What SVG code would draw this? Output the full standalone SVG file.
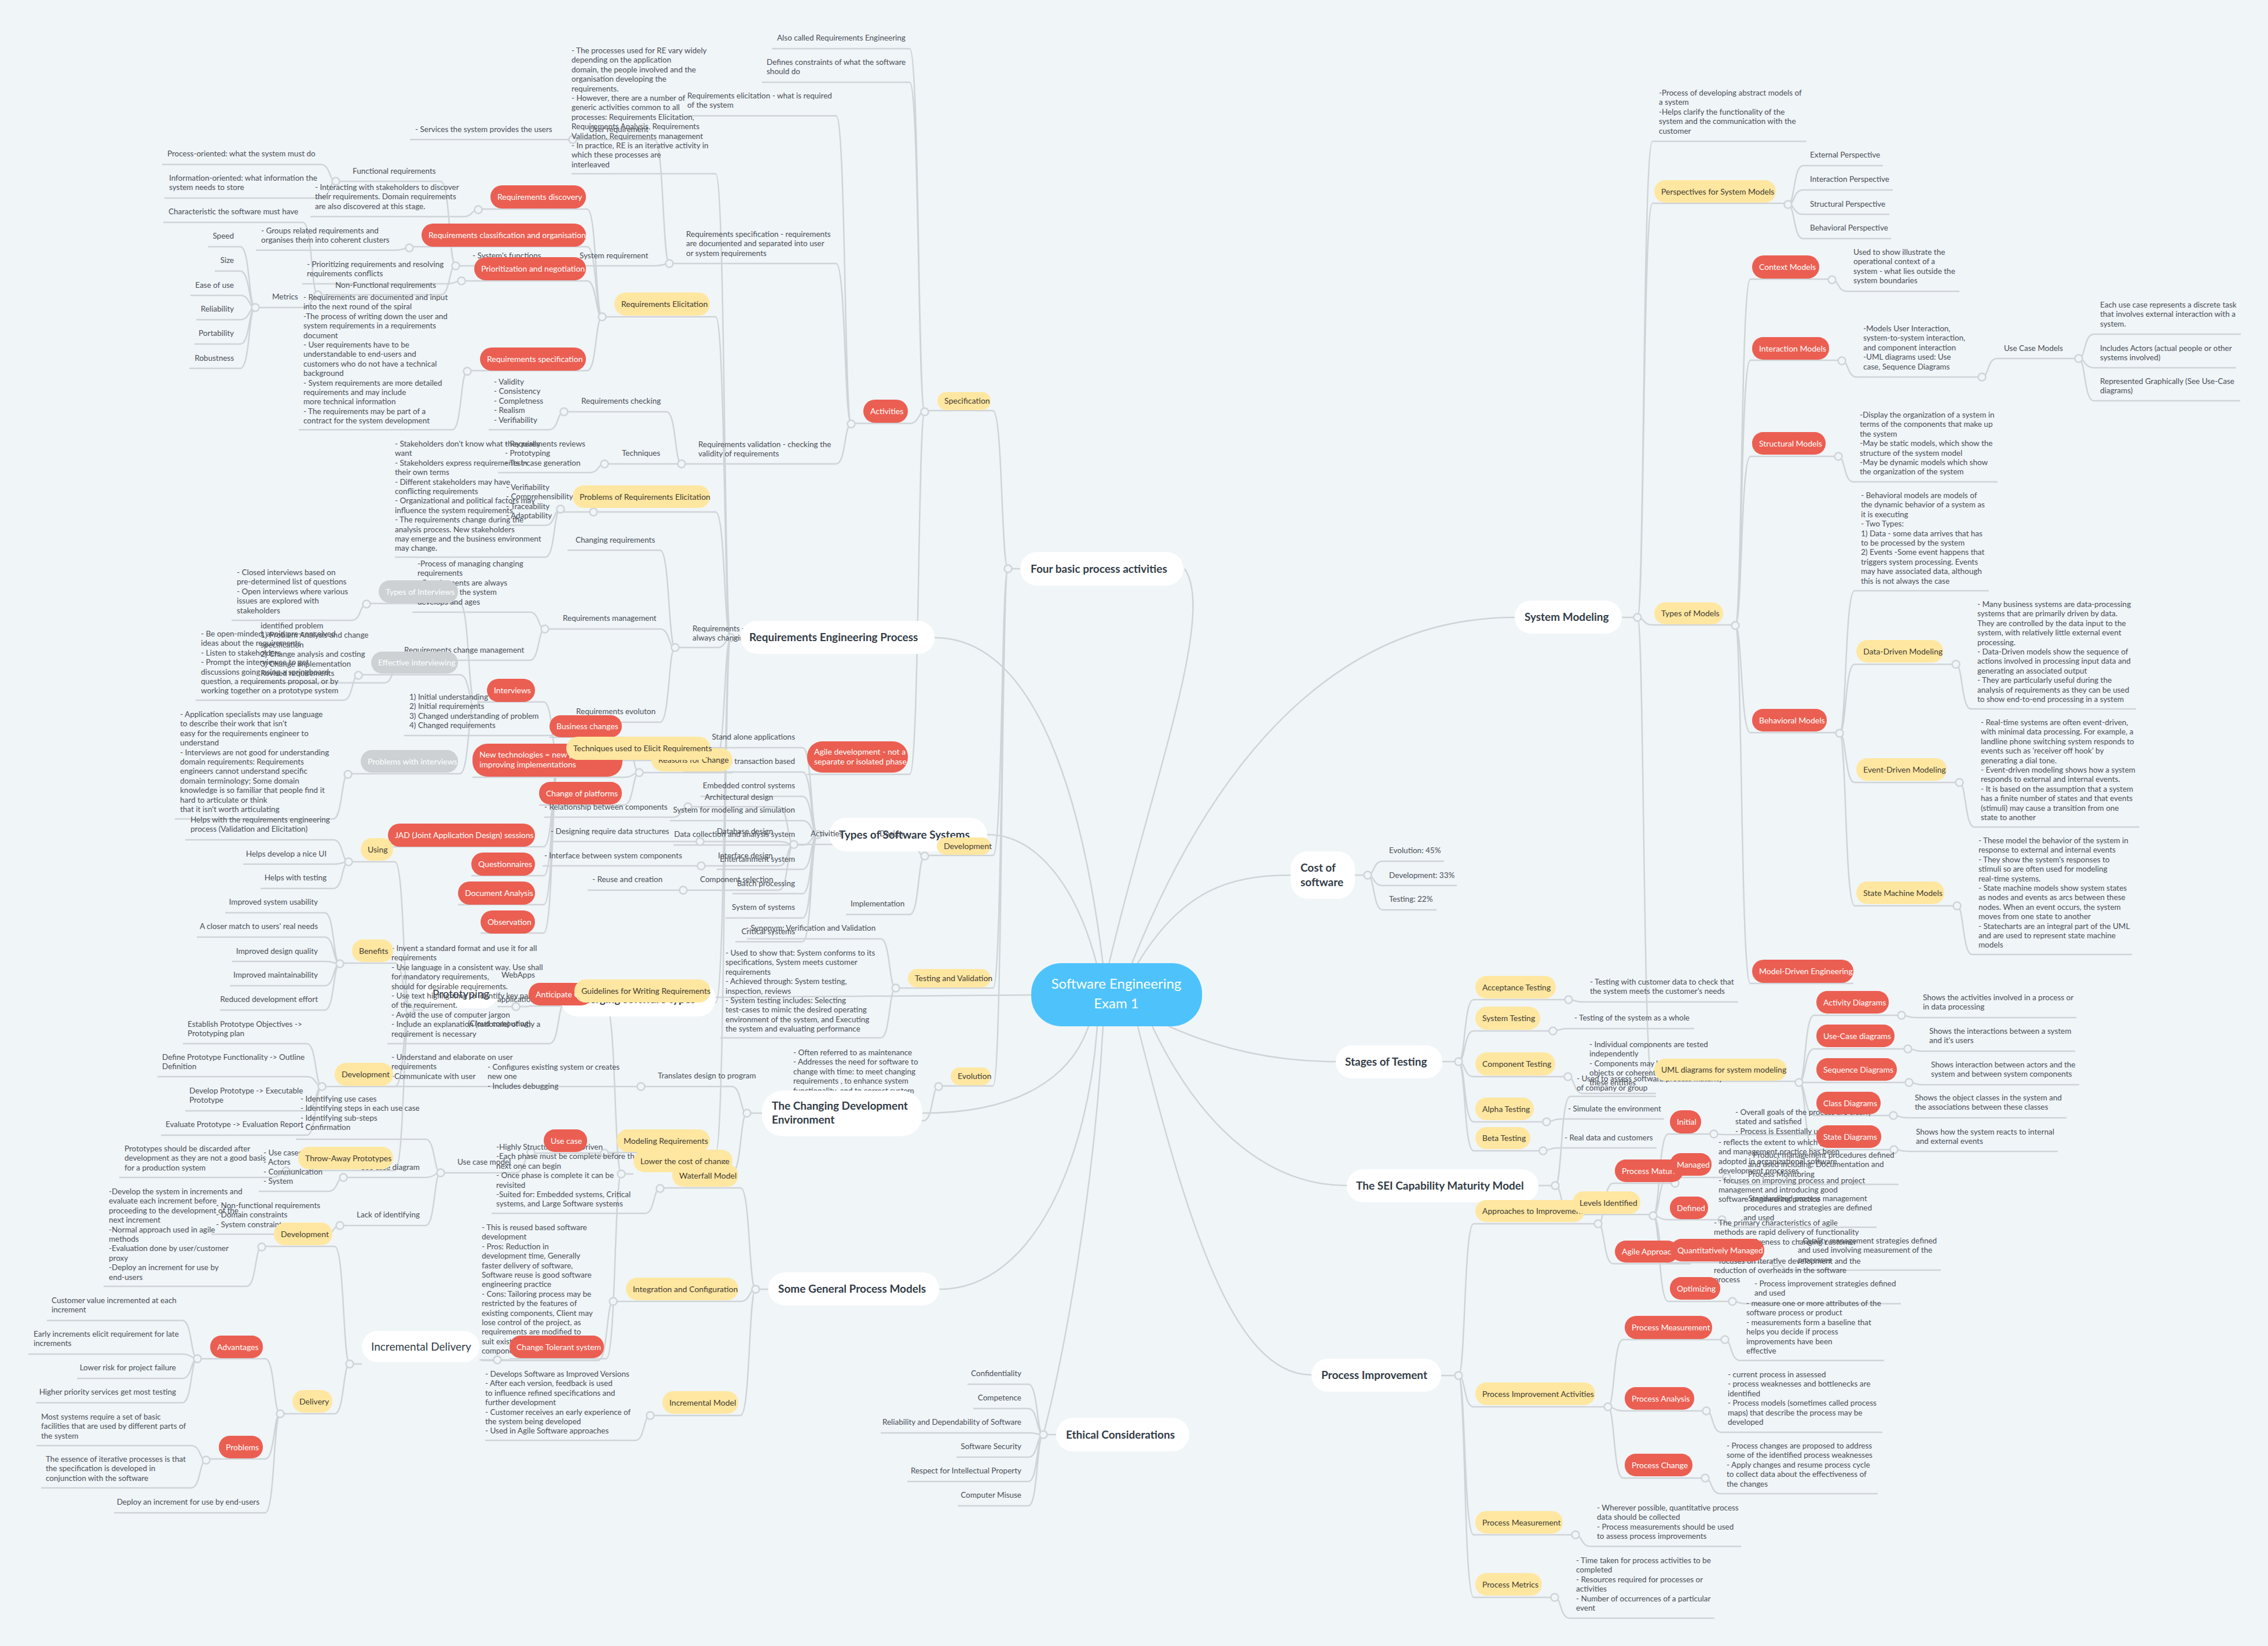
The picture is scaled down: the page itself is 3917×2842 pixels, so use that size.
<svg xmlns="http://www.w3.org/2000/svg" width="3917" height="2842" viewBox="0 0 3917 2842">
<style>
.c{fill:none;stroke:#cfd4d8;stroke-width:2.5}
.h{fill:#f0f5f8;stroke:#cfd4d8;stroke-width:2.5}
text{font-family:Lato,"Liberation Sans",sans-serif}
.t{font-size:13.5px;fill:#4a4f57}
.e{text-anchor:end}
.pr{fill:#eb5f52}.py{fill:#ffe7a1}.pg{fill:#cdd1d4}.pw{fill:#ffffff}
.wt{font-size:14px;fill:#ffffff}
.yt{font-size:14px;fill:#3f3c33}
.mt{font-size:19px;font-weight:bold;fill:#323c46}
.rt{font-size:19px;fill:#323c46}
</style>
<rect width="3917" height="2842" fill="#f0f5f8"/>
<g id="connectors">
<path class="c" d="M1915 1665C1990 1350 2100 1060 2046 982"/>
<path class="c" d="M1905 1665C1870 1380 1790 1101 1614 1101"/>
<path class="c" d="M1895 1668C1860 1530 1790 1441 1705 1441"/>
<path class="c" d="M1781 1718L1236 1722"/>
<path class="c" d="M1880 1772C1850 1860 1760 1922 1593 1922"/>
<path class="c" d="M1895 1772C1880 1990 1790 2226 1622 2226"/>
<path class="c" d="M1905 1772C1890 2050 1840 2330 1802 2477"/>
<path class="c" d="M1965 1663C2040 1540 2120 1511 2229 1511"/>
<path class="c" d="M1955 1663C2120 1250 2350 1066 2616 1066"/>
<path class="c" d="M2010 1768C2100 1810 2200 1833 2307 1833"/>
<path class="c" d="M1990 1772C2080 1960 2200 2047 2326 2047"/>
<path class="c" d="M1965 1772C2050 2110 2130 2374 2265 2374"/>
<path class="c" d="M1741 982C1729 982 1732 709 1715 709H1597M1741 982C1729 982 1732 1477 1715 1477H1597M1741 982C1729 982 1732 1706 1715 1706H1547M1741 982C1729 982 1732 1875 1715 1875H1621M1741 982H1762"/>
<path class="c" d="M1597 711C1585 711 1588 84 1571 84H1333M1597 711C1585 711 1588 142 1571 142H1316M1597 711C1585 711 1588 731 1571 731H1470M1597 711C1585 711 1588 1337 1571 1337H1394"/>
<path class="c" d="M1470 732C1458 732 1461 200 1444 200H1187M1470 732C1458 732 1461 455 1444 455H1156M1470 732C1458 732 1461 801 1444 801H1177"/>
<path class="c" d="M1156 455C1144 455 1147 241 1130 241H989M1156 455C1148 455 1146 459 1130 459H787M989 241H708"/>
<path class="c" d="M787 459C775 459 778 313 761 313H580M787 459C775 459 778 509 761 509H549"/>
<path class="c" d="M580 313C568 313 571 284 554 284H280M580 313C568 313 571 342 554 342H284M549 509C537 509 540 384 523 384H282M549 509C537 509 540 531 523 531H441"/>
<path class="c" d="M441 531C429 531 432 426 415 426H359M441 531C429 531 432 468 415 468H371M441 531C429 531 432 510 415 510H329M441 531C429 531 432 552 415 552H339M441 531C429 531 432 594 415 594H336M441 531C429 531 432 636 415 636H327"/>
<path class="c" d="M1177 801C1165 801 1168 711 1151 711H974M1177 801H1044M974 711C962 711 965 742 948 742H844M1044 801C1032 801 1035 816 1018 816H860"/>
<path class="c" d="M1262 1101C1250 1101 1253 300 1236 300H987M1262 1101C1250 1101 1253 547 1236 547H1040M1262 1101C1250 1101 1253 884 1236 884H1025M1262 1101C1254 1101 1252 1118 1240 1118H1166M1262 1101C1250 1101 1253 1313 1236 1313H965M1262 1101C1250 1101 1253 1731 1236 1731H975M1262 1101C1250 1101 1253 1990 1236 1990H1044M1262 1101H1279"/>
<path class="c" d="M1040 547C1028 547 1031 361 1014 361H826M1040 547C1028 547 1031 426 1014 426H707M1040 547C1028 547 1031 485 1014 485H797M1040 547C1028 547 1031 640 1014 640H807"/>
<path class="c" d="M826 362C814 362 817 374 800 374H536M707 428C695 428 698 432 681 432H442M797 485C785 485 788 490 771 490H522M807 641C795 641 798 742 781 742H516"/>
<path class="c" d="M1025 884H968M968 879C956 879 959 962 942 962H682M968 879C956 879 959 907 942 907H874"/>
<path class="c" d="M1166 1118C1154 1118 1157 950 1140 950H980M1166 1118C1154 1118 1157 1086 1140 1086H941M1166 1118C1154 1118 1157 1247 1140 1247H975"/>
<path class="c" d="M941 1086C929 1086 932 1057 915 1057H712M941 1086C929 1086 932 1140 915 1140H690M690 1140C678 1140 681 1179 664 1179H440M975 1247C963 1247 966 1270 949 1270H698"/>
<path class="c" d="M965 1314C953 1314 956 1212 939 1212H820M965 1314C953 1314 956 1462 939 1462H670M965 1314C953 1314 956 1512 939 1512H814M965 1314C953 1314 956 1562 939 1562H791M965 1314C953 1314 956 1611 939 1611H830"/>
<path class="c" d="M820 1212C808 1212 811 1042 794 1042H633M820 1212C808 1212 811 1165 794 1165H619M820 1212C808 1212 811 1336 794 1336H601"/>
<path class="c" d="M633 1043C621 1043 624 1071 607 1071H400M619 1166C607 1166 610 1209 593 1209H338M601 1337C589 1337 592 1414 575 1414H302"/>
<path class="c" d="M1104 1334H1265M1104 1334C1092 1334 1095 1273 1078 1273H949M1104 1334C1092 1334 1095 1342 1078 1342H816M1104 1334C1092 1334 1095 1390 1078 1390H931"/>
<path class="c" d="M1073 2027C1061 2027 1064 1737 1047 1737H913M1073 2027C1061 2027 1064 2346 1047 2346H880M1073 2027H1094M913 1738H859M731 1744H708"/>
<path class="c" d="M708 1744C696 1744 699 1488 682 1488H602M708 1744C696 1744 699 1663 682 1663H587M708 1744C696 1744 699 1876 682 1876H556M708 1744C696 1744 699 2021 682 2021H494"/>
<path class="c" d="M602 1488C590 1488 593 1450 576 1450H320M602 1488C590 1488 593 1492 576 1492H420M602 1488C590 1488 593 1534 576 1534H450"/>
<path class="c" d="M587 1664C575 1664 578 1576 561 1576H389M587 1664C575 1664 578 1618 561 1618H340M587 1664C575 1664 578 1660 561 1660H401M587 1664C575 1664 578 1702 561 1702H397M587 1664C575 1664 578 1744 561 1744H380"/>
<path class="c" d="M556 1876C544 1876 547 1802 530 1802H316M556 1876C544 1876 547 1859 530 1859H272M556 1876C544 1876 547 1918 530 1918H320M556 1876C544 1876 547 1960 530 1960H278M494 2022C482 2022 485 2033 468 2033H206"/>
<path class="c" d="M992 1733H975M975 1733C963 1733 966 1802 949 1802H669"/>
<path class="c" d="M880 2348H828M625 2355H604M604 2355C592 2355 595 2152 578 2152H452M604 2355C592 2355 595 2441 578 2441H484M452 2153C440 2153 443 2221 426 2221H179"/>
<path class="c" d="M484 2441C472 2441 475 2346 458 2346H341M484 2441C472 2441 475 2519 458 2519H356M484 2441C472 2441 475 2612 458 2612H197"/>
<path class="c" d="M341 2346C329 2346 332 2280 315 2280H81M341 2346C329 2346 332 2338 315 2338H49M341 2346C329 2346 332 2380 315 2380H133M341 2346C329 2346 332 2422 315 2422H62M356 2521C344 2521 347 2496 330 2496H63M356 2521C344 2521 347 2569 330 2569H71"/>
<path class="c" d="M1065 1991H917M917 1990C905 1990 908 2025 891 2025H761M761 2025C749 2025 752 1967 735 1967H511M761 2025C749 2025 752 2033 735 2033H593M761 2025C749 2025 752 2116 735 2116H587M593 2033C581 2033 584 2057 567 2057H447M587 2116C575 2116 578 2131 561 2131H365"/>
<path class="c" d="M1316 1922H1290M1290 1922C1278 1922 1281 2025 1264 2025M1290 1922C1278 1922 1281 1876 1264 1876H669"/>
<path class="c" d="M1327 2226H1305M1305 2226C1293 2226 1296 2051 1279 2051H1140M1305 2226C1293 2226 1296 2247 1279 2247H1059M1305 2226C1293 2226 1296 2444 1279 2444H1123"/>
<path class="c" d="M1140 2052C1128 2052 1131 2095 1114 2095H849M1059 2247C1047 2247 1050 2349 1033 2349H832M1123 2444C1111 2444 1114 2487 1097 2487H838"/>
<path class="c" d="M1824 2477H1802M1802 2477C1790 2477 1793 2390 1776 2390H1671M1802 2477C1790 2477 1793 2432 1776 2432H1681M1802 2477C1790 2477 1793 2474 1776 2474H1521M1802 2477C1790 2477 1793 2516 1776 2516H1652M1802 2477C1790 2477 1793 2558 1776 2558H1567M1802 2477C1790 2477 1793 2600 1776 2600H1654"/>
<path class="c" d="M1432 1441H1412M1412 1441C1400 1441 1403 1291 1386 1291H1225M1412 1441C1400 1441 1403 1333 1386 1333H1180M1412 1441C1400 1441 1403 1375 1386 1375H1210M1412 1441C1400 1441 1403 1417 1386 1417H1157M1412 1441C1400 1441 1403 1459 1386 1459H1163M1412 1441C1400 1441 1403 1501 1386 1501H1238M1412 1441C1400 1441 1403 1543 1386 1543H1265M1412 1441C1400 1441 1403 1585 1386 1585H1253M1412 1441C1400 1441 1403 1626 1386 1626H1270"/>
<path class="c" d="M1597 1478C1585 1478 1588 1458 1571 1458H1371M1597 1478C1585 1478 1588 1579 1571 1579H1461"/>
<path class="c" d="M1371 1458C1359 1458 1362 1393 1345 1393H1188M1371 1458C1359 1458 1362 1453 1345 1453H1209M1371 1458C1359 1458 1362 1495 1345 1495H1211M1371 1458C1359 1458 1362 1537 1345 1537H1180M1188 1393C1176 1393 1179 1411 1162 1411H940M1209 1453H951M1211 1495H937M1180 1537H1015"/>
<path class="c" d="M1547 1706C1535 1706 1538 1621 1521 1621H1290M1547 1706C1535 1706 1538 1792 1521 1792H1244M1621 1876C1609 1876 1612 1935 1595 1935H1362"/>
<path class="c" d="M2801 1066H2828M2828 1066C2840 1066 2837 244 2854 244H3120M2828 1066C2840 1066 2837 351 2854 351H3088M2828 1066C2840 1066 2837 1079 2854 1079H2997M2828 1066C2840 1066 2837 1867 2854 1867H3107"/>
<path class="c" d="M3088 353C3100 353 3097 286 3114 286H3252M3088 353C3100 353 3097 328 3114 328H3269M3088 353C3100 353 3097 370 3114 370H3263M3088 353C3100 353 3097 412 3114 412H3266"/>
<path class="c" d="M2997 1080C3009 1080 3006 482 3023 482H3164M2997 1080C3009 1080 3006 622 3023 622H3181M2997 1080C3009 1080 3006 788 3023 788H3175M2997 1080C3009 1080 3006 1265 3023 1265H3177M2997 1080C3009 1080 3006 1698 3023 1698H3201"/>
<path class="c" d="M3164 483C3176 483 3173 503 3190 503H3384M3181 623C3193 623 3190 651 3207 651H3423M3423 651C3435 651 3432 619 3449 619H3590M3175 788C3187 788 3184 832 3201 832H3450"/>
<path class="c" d="M3590 619C3602 619 3599 577 3616 577H3870M3590 619C3602 619 3599 635 3616 635H3862M3590 619C3602 619 3599 692 3616 692H3869"/>
<path class="c" d="M3177 1266C3189 1266 3186 1020 3203 1020H3435M3177 1266C3189 1266 3186 1147 3203 1147H3378M3177 1266C3189 1266 3186 1351 3203 1351H3384M3177 1266C3189 1266 3186 1564 3203 1564H3380"/>
<path class="c" d="M3378 1147C3390 1147 3387 1224 3404 1224H3689M3384 1351C3396 1351 3393 1428 3410 1428H3695M3380 1564C3392 1564 3389 1648 3406 1648H3682"/>
<path class="c" d="M3107 1869C3119 1869 3116 1753 3133 1753H3284M3107 1869C3119 1869 3116 1811 3133 1811H3295M3107 1869C3119 1869 3116 1869 3133 1869H3297M3107 1869C3119 1869 3116 1926 3133 1926H3270M3107 1869C3119 1869 3116 1985 3133 1985H3271"/>
<path class="c" d="M3284 1753C3296 1753 3293 1757 3310 1757H3586M3295 1811C3307 1811 3304 1815 3321 1815H3584M3297 1869C3309 1869 3306 1873 3323 1873H3591M3270 1926C3282 1926 3279 1930 3296 1930H3569M3271 1985C3283 1985 3280 1988 3297 1988H3554"/>
<path class="c" d="M2340 1511H2362M2362 1511C2374 1511 2371 1487 2388 1487H2494M2362 1511C2374 1511 2371 1529 2388 1529H2516M2362 1511C2374 1511 2371 1571 2388 1571H2481"/>
<path class="c" d="M2491 1833H2519M2519 1833C2531 1833 2528 1726 2545 1726H2709M2519 1833C2531 1833 2528 1780 2545 1780H2682M2519 1833C2531 1833 2528 1859 2545 1859H2708M2519 1833C2531 1833 2528 1937 2545 1937H2671M2519 1833C2531 1833 2528 1987 2545 1987H2665"/>
<path class="c" d="M2709 1726C2721 1726 2718 1730 2735 1730H3002M2682 1780C2694 1780 2691 1776 2708 1776H2926M2708 1859C2720 1859 2717 1888 2734 1888H2860M2671 1937C2683 1937 2680 1932 2697 1932H2874M2665 1987C2677 1987 2674 1982 2691 1982H2861"/>
<path class="c" d="M2657 2047H2686M2686 2047C2698 2047 2695 1893 2712 1893H2860M2686 2047C2698 2047 2695 2097 2712 2097H2855"/>
<path class="c" d="M2855 2099C2867 2099 2864 1958 2881 1958H2960M2855 2099C2867 2099 2864 2033 2881 2033H2982M2855 2099C2867 2099 2864 2106 2881 2106H2974M2855 2099C2867 2099 2864 2180 2881 2180H3067M2855 2099C2867 2099 2864 2247 2881 2247H2992"/>
<path class="c" d="M2960 1958C2972 1958 2969 1959 2986 1959H3230M2982 2033C2994 2033 2991 2045 3008 2045H3279M2974 2106C2986 2106 2983 2119 3000 2119H3241M3067 2180C3079 2180 3076 2193 3093 2193H3352M2992 2247C3004 2247 3001 2251 3018 2251H3283"/>
<path class="c" d="M2489 2375H2519M2519 2375C2531 2375 2528 2113 2545 2113H2760M2519 2375C2531 2375 2528 2429 2545 2429H2777M2519 2375C2531 2375 2528 2650 2545 2650H2721M2519 2375C2531 2375 2528 2758 2545 2758H2685"/>
<path class="c" d="M2760 2113C2772 2113 2769 2043 2786 2043H2893M2760 2113C2772 2113 2769 2182 2786 2182H2920"/>
<path class="c" d="M2777 2429C2789 2429 2786 2313 2803 2313H2979M2777 2429C2789 2429 2786 2436 2803 2436H2947M2777 2429C2789 2429 2786 2552 2803 2552H2945"/>
<path class="c" d="M2979 2313C2991 2313 2988 2349 3005 2349H3254M2947 2436C2959 2436 2956 2473 2973 2473H3251M2945 2552C2957 2552 2954 2579 2971 2579H3243M2721 2650C2733 2650 2730 2670 2747 2670H3007M2685 2758C2697 2758 2694 2794 2711 2794H2961"/>
</g>
<g id="hubs">
<circle class="h" cx="1741" cy="982" r="6.5"/><circle class="h" cx="1597" cy="711" r="6.5"/><circle class="h" cx="1597" cy="1478" r="6.5"/><circle class="h" cx="1547" cy="1706" r="6.5"/><circle class="h" cx="1621" cy="1876" r="6.5"/>
<circle class="h" cx="1470" cy="732" r="6.5"/><circle class="h" cx="1156" cy="455" r="6.5"/><circle class="h" cx="1177" cy="801" r="6.5"/><circle class="h" cx="989" cy="241" r="6.5"/><circle class="h" cx="787" cy="459" r="6.5"/>
<circle class="h" cx="580" cy="313" r="6.5"/><circle class="h" cx="549" cy="509" r="6.5"/><circle class="h" cx="441" cy="531" r="6.5"/><circle class="h" cx="974" cy="711" r="6.5"/><circle class="h" cx="1044" cy="801" r="6.5"/>
<circle class="h" cx="1262" cy="1101" r="6.5"/><circle class="h" cx="1040" cy="547" r="6.5"/><circle class="h" cx="826" cy="362" r="6.5"/><circle class="h" cx="707" cy="428" r="6.5"/><circle class="h" cx="797" cy="485" r="6.5"/><circle class="h" cx="807" cy="641" r="6.5"/>
<circle class="h" cx="1025" cy="884" r="6.5"/><circle class="h" cx="968" cy="879" r="6.5"/><circle class="h" cx="1166" cy="1118" r="6.5"/><circle class="h" cx="941" cy="1086" r="6.5"/><circle class="h" cx="690" cy="1140" r="6.5"/><circle class="h" cx="975" cy="1247" r="6.5"/>
<circle class="h" cx="965" cy="1314" r="6.5"/><circle class="h" cx="820" cy="1212" r="6.5"/><circle class="h" cx="633" cy="1043" r="6.5"/><circle class="h" cx="619" cy="1166" r="6.5"/><circle class="h" cx="601" cy="1337" r="6.5"/><circle class="h" cx="1104" cy="1334" r="6.5"/>
<circle class="h" cx="1073" cy="2027" r="6.5"/><circle class="h" cx="891" cy="1738" r="6.5"/><circle class="h" cx="708" cy="1744" r="6.5"/><circle class="h" cx="602" cy="1488" r="6.5"/><circle class="h" cx="587" cy="1664" r="6.5"/><circle class="h" cx="556" cy="1876" r="6.5"/><circle class="h" cx="494" cy="2022" r="6.5"/>
<circle class="h" cx="975" cy="1733" r="6.5"/><circle class="h" cx="859" cy="2348" r="6.5"/><circle class="h" cx="604" cy="2355" r="6.5"/><circle class="h" cx="452" cy="2153" r="6.5"/><circle class="h" cx="484" cy="2441" r="6.5"/><circle class="h" cx="341" cy="2346" r="6.5"/><circle class="h" cx="356" cy="2521" r="6.5"/>
<circle class="h" cx="1044" cy="1991" r="6.5"/><circle class="h" cx="917" cy="1990" r="6.5"/><circle class="h" cx="761" cy="2025" r="6.5"/><circle class="h" cx="593" cy="2033" r="6.5"/><circle class="h" cx="587" cy="2116" r="6.5"/>
<circle class="h" cx="1290" cy="1922" r="6.5"/><circle class="h" cx="1107" cy="1876" r="6.5"/><circle class="h" cx="1305" cy="2226" r="6.5"/><circle class="h" cx="1140" cy="2052" r="6.5"/><circle class="h" cx="1059" cy="2247" r="6.5"/><circle class="h" cx="1123" cy="2444" r="6.5"/>
<circle class="h" cx="1802" cy="2477" r="6.5"/><circle class="h" cx="1412" cy="1441" r="6.5"/><circle class="h" cx="1371" cy="1458" r="6.5"/><circle class="h" cx="1188" cy="1393" r="6.5"/><circle class="h" cx="1209" cy="1453" r="6.5"/><circle class="h" cx="1211" cy="1495" r="6.5"/><circle class="h" cx="1180" cy="1537" r="6.5"/>
<circle class="h" cx="2828" cy="1066" r="6.5"/><circle class="h" cx="3088" cy="353" r="6.5"/><circle class="h" cx="2997" cy="1080" r="6.5"/><circle class="h" cx="3164" cy="483" r="6.5"/><circle class="h" cx="3181" cy="623" r="6.5"/><circle class="h" cx="3423" cy="651" r="6.5"/><circle class="h" cx="3590" cy="619" r="6.5"/><circle class="h" cx="3175" cy="788" r="6.5"/>
<circle class="h" cx="3177" cy="1266" r="6.5"/><circle class="h" cx="3378" cy="1147" r="6.5"/><circle class="h" cx="3384" cy="1351" r="6.5"/><circle class="h" cx="3380" cy="1564" r="6.5"/><circle class="h" cx="3107" cy="1869" r="6.5"/>
<circle class="h" cx="3284" cy="1753" r="6.5"/><circle class="h" cx="3295" cy="1811" r="6.5"/><circle class="h" cx="3297" cy="1869" r="6.5"/><circle class="h" cx="3270" cy="1926" r="6.5"/><circle class="h" cx="3271" cy="1985" r="6.5"/>
<circle class="h" cx="2362" cy="1511" r="6.5"/><circle class="h" cx="2519" cy="1833" r="6.5"/><circle class="h" cx="2709" cy="1726" r="6.5"/><circle class="h" cx="2682" cy="1780" r="6.5"/><circle class="h" cx="2708" cy="1859" r="6.5"/><circle class="h" cx="2671" cy="1937" r="6.5"/><circle class="h" cx="2665" cy="1987" r="6.5"/>
<circle class="h" cx="2686" cy="2047" r="6.5"/><circle class="h" cx="2855" cy="2099" r="6.5"/><circle class="h" cx="2960" cy="1958" r="6.5"/><circle class="h" cx="2982" cy="2033" r="6.5"/><circle class="h" cx="2974" cy="2106" r="6.5"/><circle class="h" cx="3067" cy="2180" r="6.5"/><circle class="h" cx="2992" cy="2247" r="6.5"/>
<circle class="h" cx="2519" cy="2375" r="6.5"/><circle class="h" cx="2760" cy="2113" r="6.5"/><circle class="h" cx="2893" cy="2043" r="6.5"/><circle class="h" cx="2777" cy="2429" r="6.5"/><circle class="h" cx="2979" cy="2313" r="6.5"/><circle class="h" cx="2947" cy="2436" r="6.5"/><circle class="h" cx="2945" cy="2552" r="6.5"/><circle class="h" cx="2721" cy="2650" r="6.5"/><circle class="h" cx="2685" cy="2758" r="6.5"/>
</g>
<g id="n-prototyping"><rect class="pw" x="731" y="1692" width="128" height="49" rx="24"/><text class="rt" x="747" y="1723">Prototyping</text></g>
<g id="n-emerging"><rect class="pw" x="968" y="1695" width="268" height="60" rx="30"/><text class="mt" x="992" y="1732">Emerging software types</text></g>
<g id="n-types-ss"><rect class="pw" x="1432" y="1412" width="273" height="58" rx="29"/><text class="mt" x="1449" y="1448">Types of Software Systems</text></g>
<g id="leaves">
<text class="t" x="717" y="228">- Services the system provides the users</text>
<text class="t" x="289" y="270">Process-oriented: what the system must do</text>
<text class="t" x="609" y="300">Functional requirements</text>
<text class="t" x="292" y="312">Information-oriented: what information the<tspan x="292" dy="16.4">system needs to store</tspan></text>
<text class="t" x="544" y="328">- Interacting with stakeholders to discover<tspan x="544" dy="16.4">their requirements. Domain requirements</tspan><tspan x="544" dy="16.4">are also discovered at this stage.</tspan></text>
<text class="t" x="291" y="370">Characteristic the software must have</text>
<text class="t" x="451" y="403">- Groups related requirements and<tspan x="451" dy="16.4">organises them into coherent clusters</tspan></text>
<text class="t e" x="404" y="412">Speed</text>
<text class="t e" x="404" y="454">Size</text>
<text class="t e" x="404" y="497">Ease of use</text>
<text class="t e" x="404" y="538">Reliability</text>
<text class="t e" x="404" y="580">Portability</text>
<text class="t e" x="404" y="623">Robustness</text>
<text class="t" x="470" y="517">Metrics</text>
<text class="t" x="816" y="446">- System's functions</text>
<text class="t" x="530" y="461">- Prioritizing requirements and resolving<tspan x="530" dy="16.4">requirements conflicts</tspan></text>
<text class="t" x="579" y="497">Non-Functional requirements</text>
<text class="t" x="524" y="518">- Requirements are documented and input<tspan x="524" dy="16.4">into the next round of the spiral</tspan><tspan x="524" dy="16.4">-The process of writing down the user and</tspan><tspan x="524" dy="16.4">system requirements in a requirements</tspan><tspan x="524" dy="16.4">document</tspan><tspan x="524" dy="16.4">- User requirements have to be</tspan><tspan x="524" dy="16.4">understandable to end-users and</tspan><tspan x="524" dy="16.4">customers who do not have a technical</tspan><tspan x="524" dy="16.4">background</tspan><tspan x="524" dy="16.4">- System requirements are more detailed</tspan><tspan x="524" dy="16.4">requirements and may include</tspan><tspan x="524" dy="16.4">more technical information</tspan><tspan x="524" dy="16.4">- The requirements may be part of a</tspan><tspan x="524" dy="16.4">contract for the system development</tspan></text>
<text class="t" x="853" y="664">- Validity<tspan x="853" dy="16.4">- Consistency</tspan><tspan x="853" dy="16.4">- Completness</tspan><tspan x="853" dy="16.4">- Realism</tspan><tspan x="853" dy="16.4">- Verifiability</tspan></text>
<text class="t" x="682" y="771">- Stakeholders don't know what they really<tspan x="682" dy="16.4">want</tspan><tspan x="682" dy="16.4">- Stakeholders express requirements in</tspan><tspan x="682" dy="16.4">their own terms</tspan><tspan x="682" dy="16.4">- Different stakeholders may have</tspan><tspan x="682" dy="16.4">conflicting requirements</tspan><tspan x="682" dy="16.4">- Organizational and political factors may</tspan><tspan x="682" dy="16.4">influence the system requirements</tspan><tspan x="682" dy="16.4">- The requirements change during the</tspan><tspan x="682" dy="16.4">analysis process. New stakeholders</tspan><tspan x="682" dy="16.4">may emerge and the business environment</tspan><tspan x="682" dy="16.4">may change.</tspan></text>
<text class="t" x="872" y="771">- Requirements reviews<tspan x="872" dy="16.4">- Prototyping</tspan><tspan x="872" dy="16.4">- Test-case generation</tspan></text>
<text class="t" x="874" y="846">- Verifiability<tspan x="874" dy="16.4">- Comprehensibility</tspan><tspan x="874" dy="16.4">- Traceability</tspan><tspan x="874" dy="16.4">- Adaptability</tspan></text>
<text class="t" x="1342" y="70">Also called Requirements Engineering</text>
<text class="t" x="1324" y="112">Defines constraints of what the software<tspan x="1324" dy="16.4">should do</tspan></text>
<text class="t" x="987" y="92">- The processes used for RE vary widely<tspan x="987" dy="16.4">depending on the application</tspan><tspan x="987" dy="16.4">domain, the people involved and the</tspan><tspan x="987" dy="16.4">organisation developing the</tspan><tspan x="987" dy="16.4">requirements.</tspan><tspan x="987" dy="16.4">- However, there are a number of</tspan><tspan x="987" dy="16.4">generic activities common to all</tspan><tspan x="987" dy="16.4">processes: Requirements Elicitation,</tspan><tspan x="987" dy="16.4">Requirements Analysis, Requirements</tspan><tspan x="987" dy="16.4">Validation, Requirements management</tspan><tspan x="987" dy="16.4">- In practice, RE is an iterative activity in</tspan><tspan x="987" dy="16.4">which these processes are</tspan><tspan x="987" dy="16.4">interleaved</tspan></text>
<text class="t" x="1187" y="170">Requirements elicitation - what is required<tspan x="1187" dy="16.4">of the system</tspan></text>
<text class="t" x="1017" y="228">User requirement</text>
<text class="t" x="1185" y="409">Requirements specification - requirements<tspan x="1185" dy="16.4">are documented and separated into user</tspan><tspan x="1185" dy="16.4">or system requirements</tspan></text>
<text class="t" x="1001" y="446">System requirement</text>
<text class="t" x="1004" y="697">Requirements checking</text>
<text class="t" x="1074" y="787">Techniques</text>
<text class="t" x="1206" y="772">Requirements validation - checking the<tspan x="1206" dy="16.4">validity of requirements</tspan></text>
<text class="t" x="994" y="937">Changing requirements</text>
<text class="t" x="721" y="978">-Process of managing changing<tspan x="721" dy="16.4">requirements</tspan><tspan x="721" dy="16.4">- Requirements are always</tspan><tspan x="721" dy="16.4">changing as the system</tspan><tspan x="721" dy="16.4">develops and ages</tspan></text>
<text class="t" x="409" y="993">- Closed interviews based on<tspan x="409" dy="16.4">pre-determined list of questions</tspan><tspan x="409" dy="16.4">- Open interviews where various</tspan><tspan x="409" dy="16.4">issues are explored with</tspan><tspan x="409" dy="16.4">stakeholders</tspan></text>
<text class="t" x="972" y="1072">Requirements management</text>
<text class="t" x="1196" y="1090">Requirements -<tspan x="1196" dy="16.4">always changing</tspan></text>
<text class="t" x="698" y="1127">Requirements change management</text>
<text class="t" x="450" y="1085">identified problem<tspan x="450" dy="16.4">1) Problem Analysis and change</tspan><tspan x="450" dy="16.4">specification</tspan><tspan x="450" dy="16.4">2) Change analysis and costing</tspan><tspan x="450" dy="16.4">3) Change implementation</tspan><tspan x="450" dy="16.4">Revised requirements</tspan></text>
<text class="t" x="347" y="1099">- Be open-minded, avoid pre-conceived<tspan x="347" dy="16.4">ideas about the requirements</tspan><tspan x="347" dy="16.4">- Listen to stakeholders</tspan><tspan x="347" dy="16.4">- Prompt the interviewee to get</tspan><tspan x="347" dy="16.4">discussions going using a springboard</tspan><tspan x="347" dy="16.4">question, a requirements proposal, or by</tspan><tspan x="347" dy="16.4">working together on a prototype system</tspan></text>
<text class="t" x="707" y="1208">1) Initial understanding of problem<tspan x="707" dy="16.4">2) Initial requirements</tspan><tspan x="707" dy="16.4">3) Changed understanding of problem</tspan><tspan x="707" dy="16.4">4) Changed requirements</tspan></text>
<text class="t" x="995" y="1233">Requirements evoluton</text>
<text class="t" x="311" y="1238">- Application specialists may use language<tspan x="311" dy="16.4">to describe their work that isn't</tspan><tspan x="311" dy="16.4">easy for the requirements engineer to</tspan><tspan x="311" dy="16.4">understand</tspan><tspan x="311" dy="16.4">- Interviews are not good for understanding</tspan><tspan x="311" dy="16.4">domain requirements: Requirements</tspan><tspan x="311" dy="16.4">engineers cannot understand specific</tspan><tspan x="311" dy="16.4">domain terminology; Some domain</tspan><tspan x="311" dy="16.4">knowledge is so familiar that people find it</tspan><tspan x="311" dy="16.4">hard to articulate or think</tspan><tspan x="311" dy="16.4">that it isn't worth articulating</tspan></text>
<text class="t" x="329" y="1420">Helps with the requirements engineering<tspan x="329" dy="16.4">process (Validation and Elicitation)</tspan></text>
<text class="t e" x="564" y="1479">Helps develop a nice UI</text>
<text class="t e" x="564" y="1520">Helps with testing</text>
<text class="t e" x="549" y="1562">Improved system usability</text>
<text class="t e" x="549" y="1604">A closer match to users' real needs</text>
<text class="t e" x="549" y="1647">Improved design quality</text>
<text class="t e" x="549" y="1688">Improved maintainability</text>
<text class="t e" x="549" y="1730">Reduced development effort</text>
<text class="t" x="676" y="1642">- Invent a standard format and use it for all<tspan x="676" dy="16.4">requirements</tspan><tspan x="676" dy="16.4">- Use language in a consistent way. Use shall</tspan><tspan x="676" dy="16.4">for mandatory requirements,</tspan><tspan x="676" dy="16.4">should for desirable requirements.</tspan><tspan x="676" dy="16.4">- Use text highlighting to identify key parts</tspan><tspan x="676" dy="16.4">of the requirement.</tspan><tspan x="676" dy="16.4">- Avoid the use of computer jargon</tspan><tspan x="676" dy="16.4">- Include an explanation (rationale) of why a</tspan><tspan x="676" dy="16.4">requirement is necessary</tspan></text>
<text class="t" x="866" y="1688">WebApps</text>
<text class="t" x="859" y="1730">application</text>
<text class="t" x="808" y="1772">(Cloud computing)</text>
<text class="t" x="324" y="1773">Establish Prototype Objectives -&gt;<tspan x="324" dy="16.4">Prototyping plan</tspan></text>
<text class="t" x="280" y="1830">Define Prototype Functionality -&gt; Outline<tspan x="280" dy="16.4">Definition</tspan></text>
<text class="t" x="327" y="1888">Develop Prototype -&gt; Executable<tspan x="327" dy="16.4">Prototype</tspan></text>
<text class="t" x="676" y="1830">- Understand and elaborate on user<tspan x="676" dy="16.4">requirements</tspan><tspan x="676" dy="16.4">-Communicate with user</tspan></text>
<text class="t" x="842" y="1847">- Configures existing system or creates<tspan x="842" dy="16.4">new one</tspan><tspan x="842" dy="16.4">- Includes debugging</tspan></text>
<text class="t" x="519" y="1902">- Identifying use cases<tspan x="519" dy="16.4">- Identifying steps in each use case</tspan><tspan x="519" dy="16.4">- Identifying sub-steps</tspan><tspan x="519" dy="16.4">- Confirmation</tspan></text>
<text class="t" x="286" y="1946">Evaluate Prototype -&gt; Evaluation Report</text>
<text class="t" x="215" y="1988">Prototypes should be discarded after<tspan x="215" dy="16.4">development as they are not a good basis</tspan><tspan x="215" dy="16.4">for a production system</tspan></text>
<text class="t" x="455" y="1995">- Use cases<tspan x="455" dy="16.4">- Actors</tspan><tspan x="455" dy="16.4">- Communication</tspan><tspan x="455" dy="16.4">- System</tspan></text>
<text class="t" x="622" y="2020">Use case diagram</text>
<text class="t" x="790" y="2011">Use case model</text>
<text class="t" x="857" y="1985">-Highly Structured, Plan Driven<tspan x="857" dy="16.4">-Each phase must be complete before the</tspan><tspan x="857" dy="16.4">next one can begin</tspan><tspan x="857" dy="16.4">- Once phase is complete it can be</tspan><tspan x="857" dy="16.4">revisited</tspan><tspan x="857" dy="16.4">-Suited for: Embedded systems, Critical</tspan><tspan x="857" dy="16.4">systems, and Large Software systems</tspan></text>
<text class="t" x="188" y="2062">-Develop the system in increments and<tspan x="188" dy="16.4">evaluate each increment before</tspan><tspan x="188" dy="16.4">proceeding to the development of the</tspan><tspan x="188" dy="16.4">next increment</tspan><tspan x="188" dy="16.4">-Normal approach used in agile</tspan><tspan x="188" dy="16.4">methods</tspan><tspan x="188" dy="16.4">-Evaluation done by user/customer</tspan><tspan x="188" dy="16.4">proxy</tspan><tspan x="188" dy="16.4">-Deploy an increment for use by</tspan><tspan x="188" dy="16.4">end-users</tspan></text>
<text class="t" x="373" y="2086">- Non-functional requirements<tspan x="373" dy="16.4">- Domain constraints</tspan><tspan x="373" dy="16.4">- System constraints</tspan></text>
<text class="t" x="616" y="2102">Lack of identifying</text>
<text class="t" x="832" y="2124">- This is reused based software<tspan x="832" dy="16.4">development</tspan><tspan x="832" dy="16.4">- Pros: Reduction in</tspan><tspan x="832" dy="16.4">development time, Generally</tspan><tspan x="832" dy="16.4">faster delivery of software,</tspan><tspan x="832" dy="16.4">Software reuse is good software</tspan><tspan x="832" dy="16.4">engineering practice</tspan><tspan x="832" dy="16.4">- Cons: Tailoring process may be</tspan><tspan x="832" dy="16.4">restricted by the features of</tspan><tspan x="832" dy="16.4">existing components, Client may</tspan><tspan x="832" dy="16.4">lose control of the project, as</tspan><tspan x="832" dy="16.4">requirements are modified to</tspan><tspan x="832" dy="16.4">suit existing</tspan><tspan x="832" dy="16.4">components</tspan></text>
<text class="t" x="838" y="2377">- Develops Software as Improved Versions<tspan x="838" dy="16.4">- After each version, feedback is used</tspan><tspan x="838" dy="16.4">to influence refined specifications and</tspan><tspan x="838" dy="16.4">further development</tspan><tspan x="838" dy="16.4">- Customer receives an early experience of</tspan><tspan x="838" dy="16.4">the system being developed</tspan><tspan x="838" dy="16.4">- Used in Agile Software approaches</tspan></text>
<text class="t" x="89" y="2250">Customer value incremented at each<tspan x="89" dy="16.4">increment</tspan></text>
<text class="t" x="58" y="2308">Early increments elicit requirement for late<tspan x="58" dy="16.4">increments</tspan></text>
<text class="t e" x="304" y="2366">Lower risk for project failure</text>
<text class="t e" x="304" y="2408">Higher priority services get most testing</text>
<text class="t" x="71" y="2451">Most systems require a set of basic<tspan x="71" dy="16.4">facilities that are used by different parts of</tspan><tspan x="71" dy="16.4">the system</tspan></text>
<text class="t" x="79" y="2524">The essence of iterative processes is that<tspan x="79" dy="16.4">the specification is developed in</tspan><tspan x="79" dy="16.4">conjunction with the software</tspan></text>
<text class="t e" x="448" y="2598">Deploy an increment for use by end-users</text>
<text class="t e" x="1764" y="2376">Confidentiality</text>
<text class="t e" x="1764" y="2418">Competence</text>
<text class="t e" x="1764" y="2460">Reliability and Dependability of Software</text>
<text class="t e" x="1764" y="2502">Software Security</text>
<text class="t e" x="1764" y="2544">Respect for Intellectual Property</text>
<text class="t e" x="1764" y="2586">Computer Misuse</text>
<text class="t e" x="1373" y="1277">Stand alone applications</text>
<text class="t e" x="1373" y="1319">Interactive transaction based</text>
<text class="t e" x="1373" y="1361">Embedded control systems</text>
<text class="t" x="1217" y="1381">Architectural design</text>
<text class="t e" x="1373" y="1403">System for modeling and simulation</text>
<text class="t" x="940" y="1398">- Relationship between components</text>
<text class="t" x="951" y="1440">- Designing require data structures</text>
<text class="t e" x="1373" y="1445">Data collection and analysis system</text>
<text class="t" x="1238" y="1440">Database design</text>
<text class="t" x="940" y="1482">- Interface between system components</text>
<text class="t" x="1240" y="1482">Interface design</text>
<text class="t e" x="1373" y="1488">Entertainment system</text>
<text class="t" x="1023" y="1523">- Reuse and creation</text>
<text class="t" x="1209" y="1523">Component selection</text>
<text class="t e" x="1373" y="1530">Batch processing</text>
<text class="t e" x="1373" y="1571">System of systems</text>
<text class="t" x="1469" y="1565">Implementation</text>
<text class="t e" x="1373" y="1613">Critical systems</text>
<text class="t" x="1288" y="1607">- Synonym: Verification and Validation</text>
<text class="t" x="1253" y="1650">- Used to show that: System conforms to its<tspan x="1253" dy="16.4">specifications, System meets customer</tspan><tspan x="1253" dy="16.4">requirements</tspan><tspan x="1253" dy="16.4">- Achieved through: System testing,</tspan><tspan x="1253" dy="16.4">inspection, reviews</tspan><tspan x="1253" dy="16.4">- System testing includes: Selecting</tspan><tspan x="1253" dy="16.4">test-cases to mimic the desired operating</tspan><tspan x="1253" dy="16.4">environment of the system, and  Executing</tspan><tspan x="1253" dy="16.4">the system and evaluating performance</tspan></text>
<text class="t" x="1370" y="1822">- Often referred to as maintenance<tspan x="1370" dy="16.4">- Addresses the need for software to</tspan><tspan x="1370" dy="16.4">change with time: to meet changing</tspan><tspan x="1370" dy="16.4">requirements , to enhance system</tspan><tspan x="1370" dy="16.4">functionality, and to correct system</tspan><tspan x="1370" dy="16.4">errors</tspan></text>
<text class="t" x="1136" y="1862">Translates design to program</text>
<text class="t" x="1400" y="1444">Activities</text>
<text class="t" x="1519" y="1444">Design</text>
<text class="t" x="2399" y="1473">Evolution: 45%</text>
<text class="t" x="2399" y="1516">Development: 33%</text>
<text class="t" x="2399" y="1557">Testing: 22%</text>
<text class="t" x="2746" y="1700">- Testing with customer data to check that<tspan x="2746" dy="16.4">the system meets the customer's needs</tspan></text>
<text class="t" x="2719" y="1762">- Testing of the system as a whole</text>
<text class="t" x="2745" y="1808">- Individual components are tested<tspan x="2745" dy="16.4">independently</tspan><tspan x="2745" dy="16.4">- Components may be functions or</tspan><tspan x="2745" dy="16.4">objects or coherent groupings of</tspan><tspan x="2745" dy="16.4">these entities</tspan></text>
<text class="t" x="2723" y="1867">- Used to assess software process maturity<tspan x="2723" dy="16.4">of company or group</tspan></text>
<text class="t" x="2708" y="1919">- Simulate the environment</text>
<text class="t" x="2702" y="1969">- Real data and customers</text>
<text class="t" x="2865" y="165">-Process of developing abstract models of<tspan x="2865" dy="16.4">a system</tspan><tspan x="2865" dy="16.4">-Helps clarify the functionality of the</tspan><tspan x="2865" dy="16.4">system and the communication with the</tspan><tspan x="2865" dy="16.4">customer</tspan></text>
<text class="t" x="3126" y="272">External Perspective</text>
<text class="t" x="3126" y="314">Interaction Perspective</text>
<text class="t" x="3126" y="357">Structural Perspective</text>
<text class="t" x="3126" y="398">Behavioral Perspective</text>
<text class="t" x="3201" y="440">Used to show illustrate the<tspan x="3201" dy="16.4">operational context of a</tspan><tspan x="3201" dy="16.4">system - what lies outside the</tspan><tspan x="3201" dy="16.4">system boundaries</tspan></text>
<text class="t" x="3218" y="572">-Models User Interaction,<tspan x="3218" dy="16.4">system-to-system interaction,</tspan><tspan x="3218" dy="16.4">and component interaction</tspan><tspan x="3218" dy="16.4">-UML diagrams used: Use</tspan><tspan x="3218" dy="16.4">case, Sequence Diagrams</tspan></text>
<text class="t" x="3461" y="606">Use Case Models</text>
<text class="t" x="3627" y="531">Each use case represents a discrete task<tspan x="3627" dy="16.4">that involves external interaction with a</tspan><tspan x="3627" dy="16.4">system.</tspan></text>
<text class="t" x="3627" y="606">Includes Actors (actual people or other<tspan x="3627" dy="16.4">systems involved)</tspan></text>
<text class="t" x="3627" y="663">Represented Graphically (See Use-Case<tspan x="3627" dy="16.4">diagrams)</tspan></text>
<text class="t" x="3212" y="721">-Display the organization of a system in<tspan x="3212" dy="16.4">terms of the components that make up</tspan><tspan x="3212" dy="16.4">the system</tspan><tspan x="3212" dy="16.4">-May be static models, which show the</tspan><tspan x="3212" dy="16.4">structure of the system model</tspan><tspan x="3212" dy="16.4">-May be dynamic models which show</tspan><tspan x="3212" dy="16.4">the organization of the system</tspan></text>
<text class="t" x="3214" y="860">- Behavioral models are models of<tspan x="3214" dy="16.4">the dynamic behavior of a system as</tspan><tspan x="3214" dy="16.4">it is executing</tspan><tspan x="3214" dy="16.4">- Two Types:</tspan><tspan x="3214" dy="16.4">1) Data - some data arrives that has</tspan><tspan x="3214" dy="16.4">to be processed by the system</tspan><tspan x="3214" dy="16.4">2) Events -Some event happens that</tspan><tspan x="3214" dy="16.4">triggers system processing. Events</tspan><tspan x="3214" dy="16.4">may have associated data, although</tspan><tspan x="3214" dy="16.4">this is not always the case</tspan></text>
<text class="t" x="3415" y="1048">- Many business systems are data-processing<tspan x="3415" dy="16.4">systems that are primarily driven by data.</tspan><tspan x="3415" dy="16.4">They are controlled by the data input to the</tspan><tspan x="3415" dy="16.4">system, with relatively little external event</tspan><tspan x="3415" dy="16.4">processing.</tspan><tspan x="3415" dy="16.4">- Data-Driven models show the sequence of</tspan><tspan x="3415" dy="16.4">actions involved in processing input data and</tspan><tspan x="3415" dy="16.4">generating an associated output</tspan><tspan x="3415" dy="16.4">- They are particularly useful during the</tspan><tspan x="3415" dy="16.4">analysis of requirements as they can be used</tspan><tspan x="3415" dy="16.4">to show end-to-end processing in a system</tspan></text>
<text class="t" x="3421" y="1252">- Real-time systems are often event-driven,<tspan x="3421" dy="16.4">with minimal data processing. For example, a</tspan><tspan x="3421" dy="16.4">landline phone switching system responds to</tspan><tspan x="3421" dy="16.4">events such as 'receiver off hook' by</tspan><tspan x="3421" dy="16.4">generating a dial tone.</tspan><tspan x="3421" dy="16.4">- Event-driven modeling shows how a system</tspan><tspan x="3421" dy="16.4">responds to external and internal events.</tspan><tspan x="3421" dy="16.4">- It is based on the assumption that a system</tspan><tspan x="3421" dy="16.4">has a finite number of states and that events</tspan><tspan x="3421" dy="16.4">(stimuli) may cause a transition from one</tspan><tspan x="3421" dy="16.4">state to another</tspan></text>
<text class="t" x="3417" y="1456">- These model the behavior of the system in<tspan x="3417" dy="16.4">response to external and internal events</tspan><tspan x="3417" dy="16.4">- They show the system's responses to</tspan><tspan x="3417" dy="16.4">stimuli so are often used for modeling</tspan><tspan x="3417" dy="16.4">real-time systems.</tspan><tspan x="3417" dy="16.4">- State machine models show system states</tspan><tspan x="3417" dy="16.4">as nodes and events as arcs between these</tspan><tspan x="3417" dy="16.4">nodes. When an event occurs, the system</tspan><tspan x="3417" dy="16.4">moves from one state to another</tspan><tspan x="3417" dy="16.4">- Statecharts are an integral part of the UML</tspan><tspan x="3417" dy="16.4">and are used to represent state machine</tspan><tspan x="3417" dy="16.4">models</tspan></text>
<text class="t" x="3321" y="1727">Shows the activities involved in a process or<tspan x="3321" dy="16.4">in data processing</tspan></text>
<text class="t" x="3332" y="1785">Shows the interactions between a system<tspan x="3332" dy="16.4">and it's users</tspan></text>
<text class="t" x="3335" y="1843">Shows interaction between actors and the<tspan x="3335" dy="16.4">system and between system components</tspan></text>
<text class="t" x="3307" y="1900">Shows the object classes in the system and<tspan x="3307" dy="16.4">the associations between these classes</tspan></text>
<text class="t" x="3309" y="1959">Shows how the system reacts to internal<tspan x="3309" dy="16.4">and external events</tspan></text>
<text class="t" x="2997" y="1925">- Overall goals of the process are clearly<tspan x="2997" dy="16.4">stated and satisfied</tspan><tspan x="2997" dy="16.4">- Process is Essentially uncontrolled</tspan></text>
<text class="t" x="2968" y="1977">- reflects the extent to which good technical<tspan x="2968" dy="16.4">and management practice has been</tspan><tspan x="2968" dy="16.4">adopted in organizational software</tspan><tspan x="2968" dy="16.4">development processes</tspan><tspan x="2968" dy="16.4">- focuses on improving process and project</tspan><tspan x="2968" dy="16.4">management and introducing good</tspan><tspan x="2968" dy="16.4">software engineering practice</tspan></text>
<text class="t" x="3019" y="1999">- Product management procedures defined<tspan x="3019" dy="16.4">and used including: Documentation and</tspan><tspan x="3019" dy="16.4">Process Monitoring</tspan></text>
<text class="t" x="3011" y="2074">- Standardized process management<tspan x="3011" dy="16.4">procedures and strategies are defined</tspan><tspan x="3011" dy="16.4">and used</tspan></text>
<text class="t" x="2960" y="2116">- The primary characteristics of agile<tspan x="2960" dy="16.4">methods are rapid delivery of functionality</tspan><tspan x="2960" dy="16.4">and responsiveness to changing customer</tspan><tspan x="2960" dy="16.4">requirements</tspan><tspan x="2960" dy="16.4">- focuses on iterative development and the</tspan><tspan x="2960" dy="16.4">reduction of overheads in the software</tspan><tspan x="2960" dy="16.4">process</tspan></text>
<text class="t" x="3105" y="2147">- Quality management strategies defined<tspan x="3105" dy="16.4">and used involving measurement of the</tspan><tspan x="3105" dy="16.4">processes</tspan></text>
<text class="t" x="3030" y="2221">- Process improvement strategies defined<tspan x="3030" dy="16.4">and used</tspan></text>
<text class="t" x="3016" y="2255">- measure one or more attributes of the<tspan x="3016" dy="16.4">software process or product</tspan><tspan x="3016" dy="16.4">- measurements form a baseline that</tspan><tspan x="3016" dy="16.4">helps you decide if process</tspan><tspan x="3016" dy="16.4">improvements have been</tspan><tspan x="3016" dy="16.4">effective</tspan></text>
<text class="t" x="2984" y="2378">- current process in assessed<tspan x="2984" dy="16.4">- process weaknesses and bottlenecks are</tspan><tspan x="2984" dy="16.4">identified</tspan><tspan x="2984" dy="16.4">- Process models (sometimes called process</tspan><tspan x="2984" dy="16.4">maps) that describe the process may be</tspan><tspan x="2984" dy="16.4">developed</tspan></text>
<text class="t" x="2982" y="2501">- Process changes are proposed to address<tspan x="2982" dy="16.4">some of the identified process weaknesses</tspan><tspan x="2982" dy="16.4">- Apply changes and resume process cycle</tspan><tspan x="2982" dy="16.4">to collect data about the effectiveness of</tspan><tspan x="2982" dy="16.4">the changes</tspan></text>
<text class="t" x="2758" y="2608">- Wherever possible, quantitative process<tspan x="2758" dy="16.4">data should be collected</tspan><tspan x="2758" dy="16.4">- Process measurements should be used</tspan><tspan x="2758" dy="16.4">to assess process improvements</tspan></text>
<text class="t" x="2722" y="2699">- Time taken for process activities to be<tspan x="2722" dy="16.4">completed</tspan><tspan x="2722" dy="16.4">- Resources required for processes or</tspan><tspan x="2722" dy="16.4">activities</tspan><tspan x="2722" dy="16.4">- Number of occurrences of a particular</tspan><tspan x="2722" dy="16.4">event</tspan></text>
</g>
<g id="n-four"><rect class="pw" x="1762" y="953" width="282" height="58" rx="29"/><text class="mt" x="1780" y="989">Four basic process activities</text></g>
<g id="n-rep"><rect class="pw" x="1279" y="1072" width="335" height="57" rx="28"/><text class="mt" x="1294" y="1107">Requirements Engineering Process</text></g>
<g id="n-cde"><rect class="pw" x="1316" y="1883" width="277" height="79" rx="36"/><text class="mt" x="1333" y="1916">The Changing Development<tspan x="1333" dy="24">Environment</tspan></text></g>
<g id="n-sgpm"><rect class="pw" x="1327" y="2197" width="295" height="57" rx="28"/><text class="mt" x="1344" y="2232">Some General Process Models</text></g>
<g id="n-ethical"><rect class="pw" x="1824" y="2448" width="230" height="58" rx="29"/><text class="mt" x="1841" y="2484">Ethical Considerations</text></g>
<g id="n-sysmod"><rect class="pw" x="2616" y="1037" width="185" height="57" rx="28"/><text class="mt" x="2633" y="1072">System Modeling</text></g>
<g id="n-cost"><rect class="pw" x="2229" y="1470" width="111" height="82" rx="30"/><text class="mt" x="2246" y="1505">Cost of<tspan x="2246" dy="25">software</tspan></text></g>
<g id="n-stages"><rect class="pw" x="2307" y="1805" width="184" height="57" rx="28"/><text class="mt" x="2323" y="1840">Stages of Testing</text></g>
<g id="n-sei"><rect class="pw" x="2326" y="2019" width="331" height="57" rx="28"/><text class="mt" x="2342" y="2054">The SEI Capability Maturity Model</text></g>
<g id="n-pi"><rect class="pw" x="2265" y="2346" width="224" height="57" rx="28"/><text class="mt" x="2282" y="2381">Process Improvement</text></g>
<g id="n-incdel"><rect class="pw" x="625" y="2298" width="203" height="54" rx="27"/><text class="rt" x="641" y="2332">Incremental Delivery</text></g>
<g id="n-root"><rect x="1781" y="1663" width="295" height="109" rx="52" fill="#4ec3fb"/><text x="1928" y="1707" text-anchor="middle" font-size="24" fill="#ffffff">Software Engineering</text><text x="1928" y="1741" text-anchor="middle" font-size="24" fill="#ffffff">Exam 1</text></g>
<g id="n-red">
<g id="r1"><rect class="pr" x="847" y="320" width="165" height="40" rx="20"/><text class="wt" x="859" y="345">Requirements discovery</text></g>
<g id="r2"><rect class="pr" x="728" y="386" width="284" height="40" rx="20"/><text class="wt" x="740" y="411">Requirements classification and organisation</text></g>
<g id="r3"><rect class="pr" x="819" y="444" width="193" height="40" rx="20"/><text class="wt" x="831" y="469">Prioritization and negotiation</text></g>
<g id="r4"><rect class="pr" x="829" y="600" width="183" height="40" rx="20"/><text class="wt" x="841" y="625">Requirements specification</text></g>
<g id="r5"><rect class="pr" x="1491" y="690" width="77" height="40" rx="20"/><text class="wt" x="1503" y="715">Activities</text></g>
<g id="r6"><rect class="pr" x="841" y="1172" width="83" height="40" rx="20"/><text class="wt" x="853" y="1197">Interviews</text></g>
<g id="r7"><rect class="pr" x="949" y="1235" width="125" height="38" rx="19"/><text class="wt" x="961" y="1259">Business changes</text></g>
<g id="r8"><rect class="pr" x="816" y="1284" width="259" height="57" rx="26"/><text class="wt" x="828" y="1308">New technologies = new platforms for<tspan x="828" dy="17">improving implementations</tspan></text></g>
<g id="r9"><rect class="pr" x="931" y="1350" width="143" height="39" rx="19"/><text class="wt" x="943" y="1375">Change of platforms</text></g>
<g id="r10"><rect class="pr" x="670" y="1422" width="254" height="40" rx="20"/><text class="wt" x="682" y="1447">JAD (Joint Application Design) sessions</text></g>
<g id="r11"><rect class="pr" x="814" y="1472" width="110" height="40" rx="20"/><text class="wt" x="826" y="1497">Questionnaires</text></g>
<g id="r12"><rect class="pr" x="791" y="1522" width="133" height="40" rx="20"/><text class="wt" x="803" y="1547">Document Analysis</text></g>
<g id="r13"><rect class="pr" x="830" y="1572" width="94" height="40" rx="20"/><text class="wt" x="842" y="1597">Observation</text></g>
<g id="r14"><rect class="pr" x="1394" y="1280" width="174" height="54" rx="26"/><text class="wt" x="1406" y="1303">Agile development - not a<tspan x="1406" dy="17">separate or isolated phase</tspan></text></g>
<g id="r15"><rect class="pr" x="913" y="1697" width="110" height="39" rx="19"/><text class="wt" x="925" y="1722">Anticipate Change</text></g>
<g id="r16"><rect class="pr" x="939" y="1950" width="75" height="39" rx="19"/><text class="wt" x="951" y="1975">Use case</text></g>
<g id="r17"><rect class="pr" x="880" y="2306" width="163" height="39" rx="19"/><text class="wt" x="892" y="2331">Change Tolerant system</text></g>
<g id="r18"><rect class="pr" x="363" y="2306" width="91" height="39" rx="19"/><text class="wt" x="375" y="2331">Advantages</text></g>
<g id="r19"><rect class="pr" x="378" y="2479" width="76" height="39" rx="19"/><text class="wt" x="390" y="2504">Problems</text></g>
<g id="r20"><rect class="pr" x="3026" y="441" width="116" height="40" rx="20"/><text class="wt" x="3038" y="466">Context Models</text></g>
<g id="r21"><rect class="pr" x="3026" y="582" width="133" height="39" rx="19"/><text class="wt" x="3038" y="607">Interaction Models</text></g>
<g id="r22"><rect class="pr" x="3026" y="746" width="127" height="39" rx="19"/><text class="wt" x="3038" y="771">Structural Models</text></g>
<g id="r23"><rect class="pr" x="3026" y="1224" width="129" height="39" rx="19"/><text class="wt" x="3038" y="1249">Behavioral Models</text></g>
<g id="r24"><rect class="pr" x="3026" y="1657" width="175" height="40" rx="20"/><text class="wt" x="3038" y="1682">Model-Driven Engineering</text></g>
<g id="r25"><rect class="pr" x="3137" y="1711" width="125" height="39" rx="19"/><text class="wt" x="3149" y="1736">Activity Diagrams</text></g>
<g id="r26"><rect class="pr" x="3137" y="1769" width="135" height="39" rx="19"/><text class="wt" x="3149" y="1794">Use-Case diagrams</text></g>
<g id="r27"><rect class="pr" x="3137" y="1827" width="139" height="39" rx="19"/><text class="wt" x="3149" y="1852">Sequence Diagrams</text></g>
<g id="r28"><rect class="pr" x="3137" y="1885" width="111" height="39" rx="19"/><text class="wt" x="3149" y="1910">Class Diagrams</text></g>
<g id="r29"><rect class="pr" x="3137" y="1943" width="112" height="39" rx="19"/><text class="wt" x="3149" y="1968">State Diagrams</text></g>
<g id="r30"><rect class="pr" x="2884" y="1917" width="54" height="40" rx="20"/><text class="wt" x="2896" y="1942">Initial</text></g>
<g id="r31"><rect class="pr" x="2789" y="2002" width="118" height="39" rx="19"/><text class="wt" x="2801" y="2027">Process Maturity</text></g>
<g id="r32"><rect class="pr" x="2884" y="1991" width="72" height="39" rx="19"/><text class="wt" x="2896" y="2016">Managed</text></g>
<g id="r33"><rect class="pr" x="2884" y="2066" width="66" height="39" rx="19"/><text class="wt" x="2896" y="2091">Defined</text></g>
<g id="r34"><rect class="pr" x="2789" y="2142" width="110" height="38" rx="19"/><text class="wt" x="2801" y="2166">Agile Approach</text></g>
<g id="r35"><rect class="pr" x="2885" y="2139" width="162" height="39" rx="19"/><text class="wt" x="2897" y="2164">Quantitatively Managed</text></g>
<g id="r36"><rect class="pr" x="2884" y="2205" width="87" height="39" rx="19"/><text class="wt" x="2896" y="2230">Optimizing</text></g>
<g id="r37"><rect class="pr" x="2806" y="2272" width="151" height="40" rx="20"/><text class="wt" x="2818" y="2297">Process Measurement</text></g>
<g id="r38"><rect class="pr" x="2806" y="2395" width="120" height="39" rx="19"/><text class="wt" x="2818" y="2420">Process Analysis</text></g>
<g id="r39"><rect class="pr" x="2806" y="2510" width="117" height="39" rx="19"/><text class="wt" x="2818" y="2535">Process Change</text></g>
</g>
<g id="n-grey">
<g id="g1"><rect class="pg" x="654" y="1002" width="137" height="39" rx="19"/><text class="wt" x="666" y="1027">Types of Interviews</text></g>
<g id="g2"><rect class="pg" x="641" y="1125" width="150" height="38" rx="19"/><text class="wt" x="653" y="1149">Effective interviewing</text></g>
<g id="g3"><rect class="pg" x="623" y="1295" width="168" height="39" rx="19"/><text class="wt" x="635" y="1320">Problems with interviews</text></g>
</g>
<g id="n-yellow">
<g id="y1"><rect class="py" x="1061" y="505" width="165" height="40" rx="20"/><text class="yt" x="1073" y="530">Requirements Elicitation</text></g>
<g id="y2"><rect class="py" x="1619" y="677" width="92" height="31" rx="15"/><text class="yt" x="1631" y="697">Specification</text></g>
<g id="y3"><rect class="py" x="989" y="838" width="237" height="39" rx="19"/><text class="yt" x="1001" y="863">Problems of Requirements Elicitation</text></g>
<g id="y4"><rect class="py" x="1125" y="1292" width="140" height="40" rx="20"/><text class="yt" x="1137" y="1317">Reasons for Change</text></g>
<g id="y5"><rect class="py" x="978" y="1272" width="249" height="40" rx="20"/><text class="yt" x="990" y="1297">Techniques used to Elicit Requirements</text></g>
<g id="y6"><rect class="py" x="623" y="1447" width="56" height="39" rx="19"/><text class="yt" x="635" y="1472">Using</text></g>
<g id="y7"><rect class="py" x="608" y="1622" width="71" height="39" rx="19"/><text class="yt" x="620" y="1647">Benefits</text></g>
<g id="y8"><rect class="py" x="578" y="1835" width="101" height="40" rx="20"/><text class="yt" x="590" y="1860">Development</text></g>
<g id="y9"><rect class="py" x="992" y="1691" width="235" height="40" rx="20"/><text class="yt" x="1004" y="1716">Guidelines for Writing Requirements</text></g>
<g id="y10"><rect class="py" x="1065" y="1950" width="161" height="39" rx="19"/><text class="yt" x="1077" y="1975">Modeling Requirements</text></g>
<g id="y11"><rect class="py" x="1094" y="1985" width="171" height="39" rx="19"/><text class="yt" x="1106" y="2010">Lower the cost of change</text></g>
<g id="y12"><rect class="py" x="1161" y="2010" width="114" height="39" rx="19"/><text class="yt" x="1173" y="2035">Waterfall Model</text></g>
<g id="y13"><rect class="py" x="1081" y="2206" width="194" height="39" rx="19"/><text class="yt" x="1093" y="2231">Integration and Configuration</text></g>
<g id="y14"><rect class="py" x="1144" y="2402" width="131" height="39" rx="19"/><text class="yt" x="1156" y="2427">Incremental Model</text></g>
<g id="y15"><rect class="py" x="515" y="1980" width="164" height="39" rx="19"/><text class="yt" x="527" y="2005">Throw-Away Prototypes</text></g>
<g id="y16"><rect class="py" x="473" y="2111" width="101" height="39" rx="19"/><text class="yt" x="485" y="2136">Development</text></g>
<g id="y17"><rect class="py" x="505" y="2400" width="69" height="39" rx="19"/><text class="yt" x="517" y="2425">Delivery</text></g>
<g id="y18"><rect class="py" x="1618" y="1446" width="93" height="30" rx="15"/><text class="yt" x="1630" y="1466">Development</text></g>
<g id="y19"><rect class="py" x="1568" y="1673" width="143" height="32" rx="16"/><text class="yt" x="1580" y="1694">Testing and Validation</text></g>
<g id="y20"><rect class="py" x="1642" y="1843" width="69" height="31" rx="15"/><text class="yt" x="1654" y="1863">Evolution</text></g>
<g id="y21"><rect class="py" x="2857" y="311" width="210" height="39" rx="19"/><text class="yt" x="2869" y="336">Perspectives for System Models</text></g>
<g id="y22"><rect class="py" x="2857" y="1040" width="119" height="38" rx="19"/><text class="yt" x="2869" y="1064">Types of Models</text></g>
<g id="y23"><rect class="py" x="3206" y="1105" width="150" height="39" rx="19"/><text class="yt" x="3218" y="1130">Data-Driven Modeling</text></g>
<g id="y24"><rect class="py" x="3206" y="1309" width="156" height="39" rx="19"/><text class="yt" x="3218" y="1334">Event-Driven Modeling</text></g>
<g id="y25"><rect class="py" x="3206" y="1522" width="152" height="39" rx="19"/><text class="yt" x="3218" y="1547">State Machine Models</text></g>
<g id="y26"><rect class="py" x="2857" y="1828" width="229" height="38" rx="19"/><text class="yt" x="2869" y="1852">UML diagrams for system modeling</text></g>
<g id="y27"><rect class="py" x="2548" y="1685" width="139" height="39" rx="19"/><text class="yt" x="2560" y="1710">Acceptance Testing</text></g>
<g id="y28"><rect class="py" x="2548" y="1738" width="112" height="40" rx="20"/><text class="yt" x="2560" y="1763">System Testing</text></g>
<g id="y29"><rect class="py" x="2548" y="1817" width="138" height="40" rx="20"/><text class="yt" x="2560" y="1842">Component Testing</text></g>
<g id="y30"><rect class="py" x="2548" y="1895" width="101" height="39" rx="19"/><text class="yt" x="2560" y="1920">Alpha Testing</text></g>
<g id="y31"><rect class="py" x="2548" y="1946" width="95" height="38" rx="19"/><text class="yt" x="2560" y="1970">Beta Testing</text></g>
<g id="y32"><rect class="py" x="2548" y="2072" width="189" height="38" rx="19"/><text class="yt" x="2560" y="2096">Approaches to Improvement</text></g>
<g id="y33"><rect class="py" x="2716" y="2057" width="117" height="39" rx="19"/><text class="yt" x="2728" y="2082">Levels Identified</text></g>
<g id="y34"><rect class="py" x="2548" y="2387" width="207" height="39" rx="19"/><text class="yt" x="2560" y="2412">Process Improvement Activities</text></g>
<g id="y35"><rect class="py" x="2548" y="2609" width="151" height="39" rx="19"/><text class="yt" x="2560" y="2634">Process Measurement</text></g>
<g id="y36"><rect class="py" x="2548" y="2716" width="115" height="39" rx="19"/><text class="yt" x="2560" y="2741">Process Metrics</text></g>
</g>
</svg>
